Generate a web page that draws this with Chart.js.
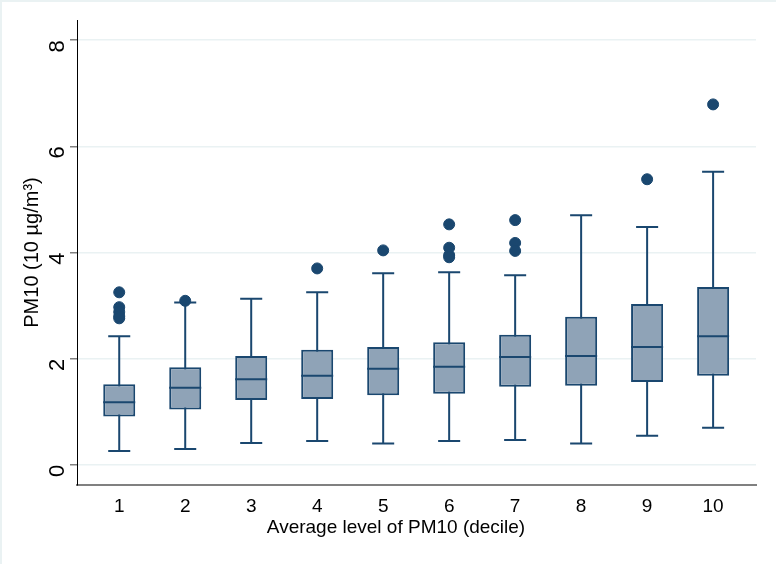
<!DOCTYPE html>
<html>
<head>
<meta charset="utf-8">
<script src="https://cdn.jsdelivr.net/npm/chart.js@4.4.1/dist/chart.umd.min.js"></script>
<style>
  html, body { margin: 0; padding: 0; background: #fff; }
  #wrap { position: relative; width: 776px; height: 564px; }
  #frame { position: absolute; left: 0; top: 0; right: 0; bottom: 0;
           border-left: 2px solid #eaf2f3; border-top: 2px solid #eaf2f3; pointer-events: none; }
</style>
</head>
<body>
<div id="wrap">
  <canvas id="boxChart" width="776" height="564"></canvas>
  <div id="frame"></div>
</div>
<script>
// deciles of average PM10 level
const deciles = [1, 2, 3, 4, 5, 6, 7, 8, 9, 10];
// box plot statistics per decile (10 µg/m3)
const lowerWhisker = [0.26, 0.30, 0.41, 0.45, 0.40, 0.45, 0.47, 0.40, 0.55, 0.70];
const q1 = [0.91, 1.04, 1.22, 1.24, 1.31, 1.34, 1.47, 1.49, 1.56, 1.68];
const median = [1.18, 1.45, 1.61, 1.68, 1.81, 1.85, 2.03, 2.05, 2.22, 2.42];
const q3 = [1.52, 1.84, 2.05, 2.17, 2.22, 2.31, 2.45, 2.79, 3.03, 3.35];
const upperWhisker = [2.42, 3.06, 3.13, 3.25, 3.61, 3.63, 3.57, 4.70, 4.48, 5.52];
const outliers = [
  [3.25, 2.97, 2.88, 2.80, 2.76],
  [3.09],
  [],
  [3.70],
  [4.04],
  [4.53, 4.09, 3.95, 3.91],
  [4.61, 4.18, 4.03],
  [],
  [5.38],
  [6.79]
];
const yTicks = [0, 2, 4, 6, 8];
const xTitle = 'Average level of PM10 (decile)';

const navy = '#1a476f';
const boxFill = '#8fa3b7';
const font = 'Liberation Sans, Arial, sans-serif';

const outlierPoints = [];
outliers.forEach((vals, i) => vals.forEach(v => outlierPoints.push({ x: deciles[i], y: v })));

// whiskers + caps behind the boxes, medians on top
const boxParts = {
  id: 'boxParts',
  beforeDatasetsDraw(chart) {
    const { ctx, scales: { x, y } } = chart;
    ctx.save();
    ctx.strokeStyle = navy;
    ctx.lineWidth = 2;
    deciles.forEach((d, i) => {
      const px = x.getPixelForValue(d);
      const half = (x.getPixelForValue(d + 0.167) - px);
      const yl = y.getPixelForValue(lowerWhisker[i]);
      const yh = y.getPixelForValue(upperWhisker[i]);
      ctx.beginPath();
      ctx.moveTo(px, yl); ctx.lineTo(px, yh);
      ctx.moveTo(px - half, yl); ctx.lineTo(px + half, yl);
      ctx.moveTo(px - half, yh); ctx.lineTo(px + half, yh);
      ctx.stroke();
    });
    ctx.restore();
  },
  afterDatasetsDraw(chart) {
    const { ctx, scales: { y } } = chart;
    const bars = chart.getDatasetMeta(0).data;
    ctx.save();
    ctx.strokeStyle = navy;
    ctx.lineWidth = 2;
    bars.forEach((bar, i) => {
      const { x: bx, width } = bar.getProps(['x', 'width'], true);
      const ym = y.getPixelForValue(median[i]);
      ctx.beginPath();
      ctx.moveTo(bx - width / 2, ym); ctx.lineTo(bx + width / 2, ym);
      ctx.stroke();
    });
    ctx.restore();
  },
  // x title is centred on the whole graph, not on the plot area
  afterDraw(chart) {
    const { ctx, width } = chart;
    ctx.save();
    ctx.fillStyle = '#000';
    ctx.font = '19px ' + font;
    ctx.textAlign = 'center';
    ctx.textBaseline = 'middle';
    ctx.fillText(xTitle, width / 2 + 8, 528);
    ctx.restore();
  }
};

new Chart(document.getElementById('boxChart').getContext('2d'), {
  type: 'bar',
  data: {
    datasets: [{
      label: 'IQR',
      data: deciles.map((d, i) => ({ x: d, y: [q1[i], q3[i]] })),
      backgroundColor: boxFill,
      borderColor: navy,
      borderWidth: 2,
      borderSkipped: false,
      categoryPercentage: 1,
      barPercentage: 0.485
    }, {
      type: 'scatter',
      label: 'Outliers',
      data: outlierPoints,
      backgroundColor: navy,
      borderColor: navy,
      pointRadius: 5.5,
      pointHoverRadius: 5.5
    }]
  },
  options: {
    responsive: false,
    animation: false,
    layout: { padding: { top: 20, right: 20, left: 0, bottom: 0 } },
    plugins: { legend: { display: false }, tooltip: { enabled: false } },
    scales: {
      x: {
        type: 'linear',
        offset: false,
        min: 0.36,
        max: 10.65,
        afterBuildTicks: s => { s.ticks = deciles.map(v => ({ value: v })); },
        afterFit: s => { s.height = 79; s.paddingLeft = 0; s.paddingRight = 0; },
        grid: { display: false, drawTicks: false },
        border: { display: true, color: '#808080', width: 2 },
        ticks: { color: '#000', font: { family: font, size: 19 }, padding: 10 }
      },
      y: {
        type: 'linear',
        min: -0.38,
        max: 8.38,
        afterBuildTicks: s => { s.ticks = yTicks.map(v => ({ value: v })); },
        afterFit: s => { s.width = 77; s.paddingTop = 0; s.paddingBottom = 0; },
        grid: { color: '#eaf2f3', lineWidth: 1.5, tickLength: 7, tickColor: '#808080' },
        border: { display: true, color: '#000', width: 1 },
        ticks: { color: '#000', font: { family: font, size: 22 }, padding: 12, minRotation: 90, maxRotation: 90 },
        title: {
          display: true,
          text: 'PM10 (10 µg/m³)',
          color: '#000',
          font: { family: font, size: 20 },
          padding: { top: 20, bottom: 0 }
        }
      }
    }
  },
  plugins: [boxParts]
});
</script>
</body>
</html>
